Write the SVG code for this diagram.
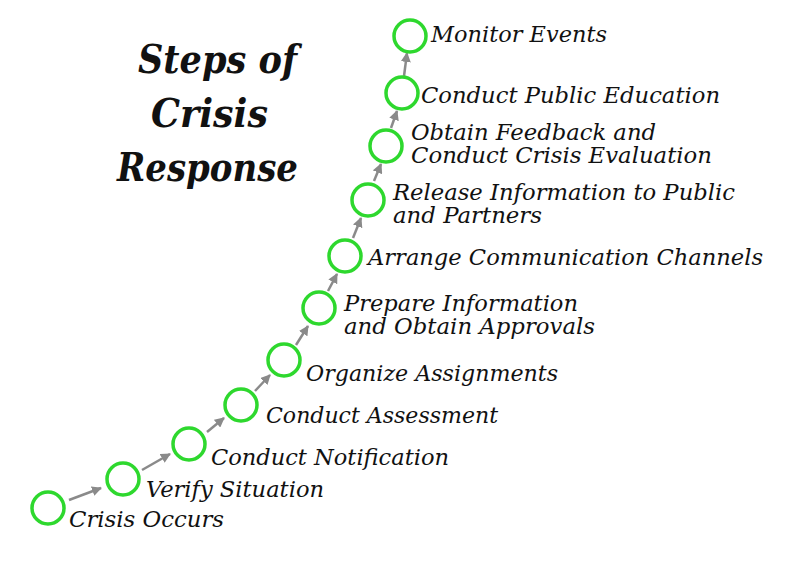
<svg xmlns="http://www.w3.org/2000/svg" width="800" height="561" viewBox="0 0 800 561">
<defs>
<style>
.n circle{fill:#fff;stroke:#2ed82e;stroke-width:3.5}
.n text{font-family:"DejaVu Serif","Liberation Serif",serif;font-style:italic;font-size:22px;fill:#111}
.t{font-family:"DejaVu Serif","Liberation Serif",serif;font-style:italic;font-weight:bold;font-size:40px;fill:#111}
#c line{stroke:#8a8a8a;stroke-width:2.5;marker-end:url(#a)}
</style>
<marker id="a" viewBox="0 0 10 10" refX="9" refY="5" markerWidth="4" markerHeight="4" orient="auto"><path d="M0,0L10,5L0,10z" fill="#8a8a8a"/></marker>
</defs>
<rect width="800" height="561" fill="#fff"/>
<text class="t" x="138" y="73" textLength="159" lengthAdjust="spacingAndGlyphs">Steps of</text>
<text class="t" x="151" y="127" textLength="117" lengthAdjust="spacingAndGlyphs">Crisis</text>
<text class="t" x="117" y="181" textLength="181" lengthAdjust="spacingAndGlyphs">Response</text>
<g id="c">
<line x1="69" y1="500" x2="101" y2="488"/>
<line x1="142" y1="470" x2="170" y2="454"/>
<line x1="207" y1="432" x2="224" y2="418"/>
<line x1="255" y1="391" x2="270" y2="375"/>
<line x1="296" y1="345" x2="308" y2="326"/>
<line x1="328" y1="291" x2="337" y2="274"/>
<line x1="353" y1="238" x2="361" y2="218"/>
<line x1="374" y1="181" x2="381" y2="164"/>
<line x1="391" y1="128" x2="397" y2="111"/>
<line x1="404" y1="76" x2="407" y2="53"/>
</g>
<g id="n1" class="n"><circle cx="48" cy="508" r="16"/><text x="69" y="527" textLength="155" lengthAdjust="spacingAndGlyphs">Crisis Occurs</text></g>
<g id="n2" class="n"><circle cx="123" cy="479" r="16"/><text x="146" y="497" textLength="178" lengthAdjust="spacingAndGlyphs">Verify Situation</text></g>
<g id="n3" class="n"><circle cx="189" cy="444" r="16"/><text x="211" y="465" textLength="238" lengthAdjust="spacingAndGlyphs">Conduct Notification</text></g>
<g id="n4" class="n"><circle cx="241" cy="405" r="16"/><text x="266" y="423" textLength="232" lengthAdjust="spacingAndGlyphs">Conduct Assessment</text></g>
<g id="n5" class="n"><circle cx="284" cy="360" r="16"/><text x="306" y="381" textLength="252" lengthAdjust="spacingAndGlyphs">Organize Assignments</text></g>
<g id="n6" class="n"><circle cx="319" cy="308" r="16"/><text x="344" y="311" textLength="234" lengthAdjust="spacingAndGlyphs">Prepare Information</text><text x="344" y="334" textLength="251" lengthAdjust="spacingAndGlyphs">and Obtain Approvals</text></g>
<g id="n7" class="n"><circle cx="345" cy="256" r="16"/><text x="368" y="265" textLength="395" lengthAdjust="spacingAndGlyphs">Arrange Communication Channels</text></g>
<g id="n8" class="n"><circle cx="368" cy="200" r="16"/><text x="393" y="200" textLength="342" lengthAdjust="spacingAndGlyphs">Release Information to Public</text><text x="393" y="223" textLength="149" lengthAdjust="spacingAndGlyphs">and Partners</text></g>
<g id="n9" class="n"><circle cx="386" cy="146" r="16"/><text x="411" y="140" textLength="245" lengthAdjust="spacingAndGlyphs">Obtain Feedback and</text><text x="411" y="163" textLength="301" lengthAdjust="spacingAndGlyphs">Conduct Crisis Evaluation</text></g>
<g id="n10" class="n"><circle cx="402" cy="93" r="16"/><text x="421" y="103" textLength="299" lengthAdjust="spacingAndGlyphs">Conduct Public Education</text></g>
<g id="n11" class="n"><circle cx="410" cy="36" r="16"/><text x="431" y="42" textLength="176" lengthAdjust="spacingAndGlyphs">Monitor Events</text></g>
</svg>
